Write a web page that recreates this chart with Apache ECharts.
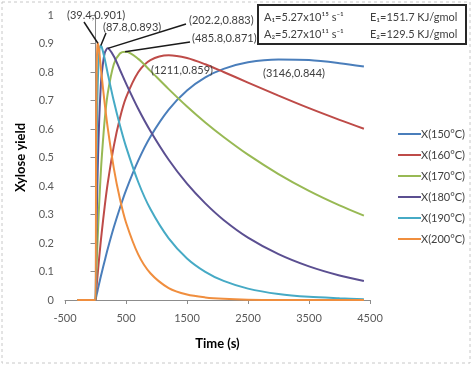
<!DOCTYPE html>
<html>
<head>
<meta charset="utf-8">
<script src="https://cdn.jsdelivr.net/npm/echarts@6/dist/echarts.min.js"></script>
<style>
html,body{margin:0;padding:0;background:#fff;}
#c{width:474px;height:368px;}
</style>
</head>
<body>
<div id="c"></div>
<script>
// ---- data ----
const timeS = [-300, 0, 10, 20, 30, 40, 60, 80, 100, 150, 200, 300, 400, 500, 700, 900, 1200, 1500, 1800, 2100, 2500, 3000, 3500, 4000, 4400];
const y150 = [0, 0, 0.010, 0.020, 0.029, 0.039, 0.058, 0.076, 0.094, 0.137, 0.179, 0.255, 0.323, 0.385, 0.489, 0.573, 0.668, 0.735, 0.781, 0.811, 0.834, 0.844, 0.842, 0.831, 0.819];
const y160 = [0, 0, 0.026, 0.052, 0.077, 0.101, 0.148, 0.192, 0.233, 0.327, 0.409, 0.540, 0.638, 0.710, 0.799, 0.842, 0.859, 0.849, 0.827, 0.800, 0.763, 0.717, 0.673, 0.632, 0.601];
const y170 = [0, 0, 0.067, 0.129, 0.187, 0.240, 0.337, 0.420, 0.492, 0.630, 0.724, 0.827, 0.865, 0.871, 0.846, 0.804, 0.740, 0.679, 0.623, 0.572, 0.510, 0.442, 0.383, 0.332, 0.296];
const y180 = [0, 0, 0.157, 0.289, 0.398, 0.490, 0.629, 0.724, 0.789, 0.866, 0.883, 0.855, 0.808, 0.760, 0.671, 0.593, 0.492, 0.408, 0.339, 0.281, 0.219, 0.161, 0.118, 0.086, 0.067];
const y190 = [0, 0, 0.334, 0.551, 0.691, 0.780, 0.867, 0.892, 0.889, 0.847, 0.795, 0.698, 0.613, 0.538, 0.414, 0.319, 0.216, 0.146, 0.099, 0.067, 0.040, 0.021, 0.011, 0.006, 0.003];
const y200 = [0, 0, 0.601, 0.819, 0.889, 0.901, 0.874, 0.831, 0.789, 0.691, 0.605, 0.463, 0.355, 0.272, 0.160, 0.094, 0.042, 0.019, 0.009, 0.004, 0.001, 0.000, 0.000, 0.000, 0.000];

const seriesNames = ['X(150°C)', 'X(160°C)', 'X(170°C)', 'X(180°C)', 'X(190°C)', 'X(200°C)'];
const peakT = [39.4, 87.8, 202.2, 485.8, 1211, 3146];
const peakY = [0.901, 0.893, 0.883, 0.871, 0.859, 0.844];
const xTicks = [-500, 500, 1500, 2500, 3500, 4500];
const paramLines = [['A₁=5.27x10¹⁵ s⁻¹', 'E₁=151.7 KJ/gmol'], ['A₂=5.27x10¹¹ s⁻¹', 'E₂=129.5 KJ/gmol']];

// ---- styling ----
const colors = ['#4a7ebb', '#be4b48', '#98b954', '#5b4f91', '#46aac5', '#f08e3e'];
const FONT = 'Lato, "Open Sans", sans-serif';
const allY = [y150, y160, y170, y180, y190, y200];

const chart = echarts.init(document.getElementById('c'), null, {renderer: 'canvas'});
const option = {
  animation: false,
  backgroundColor: '#fff',
  grid: {left: 65, right: 104, top: 15, bottom: 68, containLabel: false},
  xAxis: {
    type: 'value', min: xTicks[0], max: xTicks[xTicks.length - 1], interval: 1000,
    name: 'Time (s)', nameLocation: 'middle', nameGap: 37,
    nameTextStyle: {fontFamily: FONT, fontSize: 13, fontWeight: 'bold', color: '#000'},
    axisLine: {onZero: true, lineStyle: {color: '#8c8c8c', width: 1}},
    axisTick: {show: true, length: 4, lineStyle: {color: '#8c8c8c'}},
    axisLabel: {fontFamily: FONT, fontSize: 11, color: '#595959', margin: 13,
      formatter: v => String(Math.round(v))},
    splitLine: {show: false}
  },
  yAxis: {
    type: 'value', min: 0, max: 1, interval: 0.1,
    name: 'Xylose yield', nameLocation: 'middle', nameGap: 35,
    nameTextStyle: {fontFamily: FONT, fontSize: 13, fontWeight: 'bold', color: '#000'},
    axisLine: {show: true, lineStyle: {color: '#8c8c8c', width: 1}},
    axisTick: {show: true, length: 5, lineStyle: {color: '#8c8c8c'}},
    axisLabel: {fontFamily: FONT, fontSize: 11, color: '#595959', margin: 11,
      formatter: v => String(Math.round(v * 10) / 10)},
    splitLine: {show: false}
  },
  legend: {
    orient: 'vertical', left: 393, top: 122,
    itemWidth: 23, itemHeight: 2, itemGap: 7, icon: 'rect',
    textStyle: {fontFamily: FONT, fontSize: 11, color: '#404040', lineHeight: 14, padding: [0, 0, 0, -5]},
    data: seriesNames
  },
  series: allY.map((ys, k) => ({
    name: seriesNames[k], type: 'line', showSymbol: false, symbol: 'none',
    smooth: 0.3,
    color: colors[k],
    lineStyle: {color: colors[k], width: 2},
    data: timeS.map((t, i) => [t, ys[i]]),
    z: 2 + k
  })),
  graphic: []
};
chart.setOption(option);

// annotations: peak labels with leader lines (label layout positions)
const labelLayout = [
  {left: 67, cy: 15, line: [84, 22]},
  {left: 103, cy: 27, line: [106, 33]},
  {left: 189, cy: 20, line: [186, 24]},
  {left: 192, cy: 38, line: [190, 42]},
  {left: 151, cy: 70, line: null},
  {left: 263, cy: 73, line: null}
];
const g = [];
g.push({type: 'rect', shape: {x: 2, y: 2, width: 468, height: 361},
  style: {fill: null, stroke: '#c8c8c8', lineWidth: 1, lineDash: [3, 3]}, z: 0, silent: true});
peakT.forEach((t, i) => {
  const p = chart.convertToPixel({gridIndex: 0}, [t, peakY[i]]);
  const L = labelLayout[i];
  if (L.line) {
    g.push({type: 'line', shape: {x1: L.line[0], y1: L.line[1], x2: p[0], y2: p[1]},
      style: {stroke: '#1a1a1a', lineWidth: 1.5}, z: 20});
  }
  g.push({type: 'text', x: L.left, y: L.cy, z: 21,
    style: {text: '(' + t + ',' + peakY[i] + ')', font: '11px ' + FONT, fill: '#404040',
      textAlign: 'left', textVerticalAlign: 'middle'}});
});
// parameter box
g.push({type: 'rect', shape: {x: 258, y: 5, width: 208, height: 39},
  style: {fill: '#fff', stroke: '#262626', lineWidth: 2}, z: 30});
paramLines.forEach((row, r) => {
  g.push({type: 'text', x: 264, y: 17 + r * 17, z: 31,
    style: {text: row[0], font: '11px ' + FONT, fill: '#404040', textVerticalAlign: 'middle'}});
  g.push({type: 'text', x: 370, y: 17 + r * 17, z: 31,
    style: {text: row[1], font: '11px ' + FONT, fill: '#404040', textVerticalAlign: 'middle'}});
});
chart.setOption({graphic: g});
</script>
</body>
</html>
